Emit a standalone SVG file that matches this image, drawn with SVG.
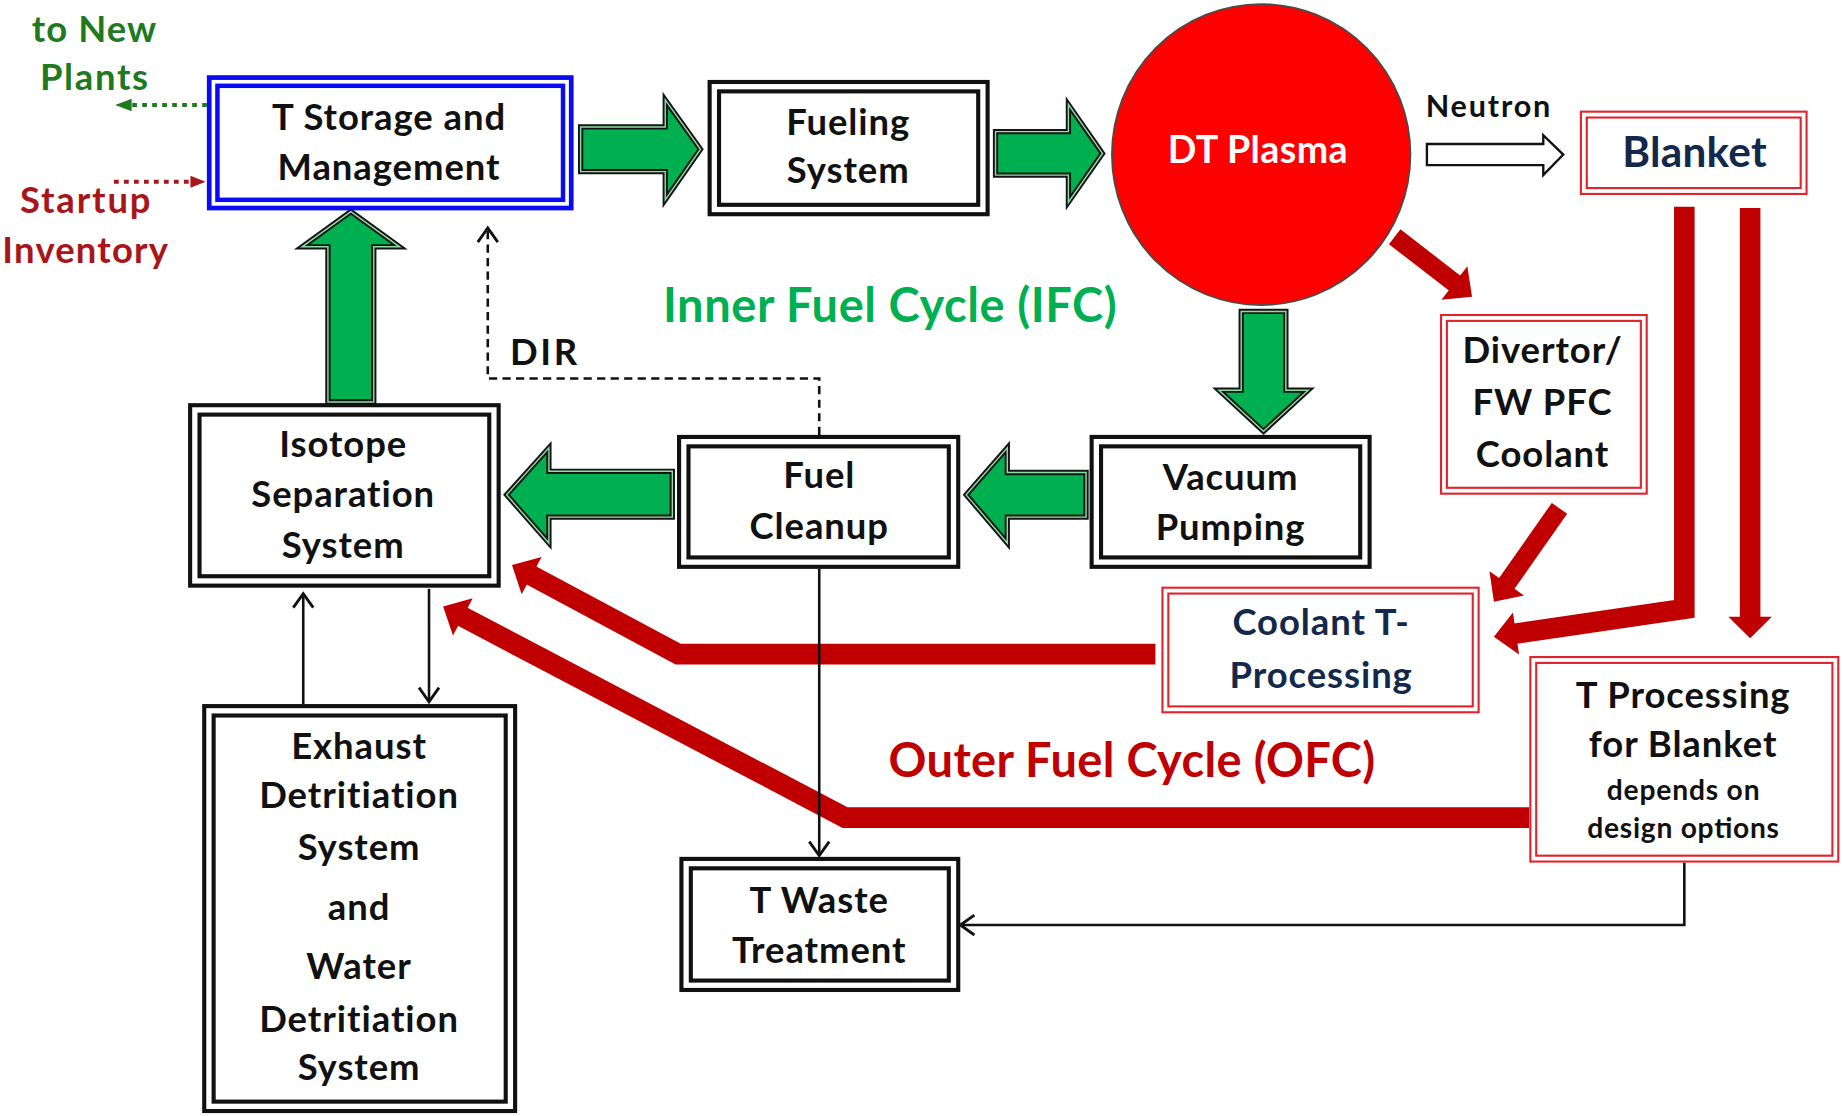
<svg xmlns="http://www.w3.org/2000/svg" xmlns:xlink="http://www.w3.org/1999/xlink" width="1843" height="1116" viewBox="0 0 1843 1116">
<style>
.t{font-family:Lato,"Liberation Sans","DejaVu Sans",sans-serif;font-weight:700;text-anchor:middle;fill:#111}
.bx{font-size:31px;letter-spacing:0.8px}
.nv{fill:#13294B}
.kO{fill:none;stroke:#111;stroke-width:3.5}
.kI{fill:none;stroke:#111;stroke-width:3.5}
.rb{fill:none;stroke:#E0242C;stroke-width:1.8}
.bb{fill:none;stroke:#0A0AF5;stroke-width:4}
.g1{fill:#00B050;stroke:#151515;stroke-width:4.5;stroke-linejoin:miter}
.g2{fill:none;stroke:#8FDCA5;stroke-width:1.2}
.band{fill:none;stroke:#C00000;stroke-width:17.5;stroke-linejoin:miter;stroke-miterlimit:10}
.rh{fill:#C00000}
.ln{fill:none;stroke:#111;stroke-width:2.2}
</style>
<defs>
<marker id="oa" markerUnits="userSpaceOnUse" markerWidth="30" markerHeight="30" viewBox="-15 -15 30 30" refX="0" refY="0" orient="auto">
<path d="M-12,-8.5 L0,0 L-12,8.5" fill="none" stroke="#111" stroke-width="2.4"/>
</marker>
<path id="gA" d="M494 108 H566 V85 L596 127 L566 170 V146 H494 Z"/>
<path id="gB" d="M847 112 H909 V89 L938 130.5 L909 172 V149 H847 Z"/>
<path id="gC" d="M1056 265 H1094 V332 H1113 L1075 367 L1037 332 H1056 Z"/>
<path id="gD" d="M924 402 H857 V381 L822 421 L857 462 V440 H924 Z"/>
<path id="gE" d="M572 401 H467 V381 L431 421 L467 462 V440 H572 Z"/>
<path id="gF" d="M279 342 V210 H257 L298.5 180 L340 210 H318 V342 Z"/>
</defs>
<rect width="1843" height="1116" fill="#fff"/>
<g transform="scale(1.17538)">

<g id="connectors">
<use xlink:href="#gA" class="g1"/><use xlink:href="#gA" class="g2"/>
<use xlink:href="#gB" class="g1"/><use xlink:href="#gB" class="g2"/>
<use xlink:href="#gC" class="g1"/><use xlink:href="#gC" class="g2"/>
<use xlink:href="#gD" class="g1"/><use xlink:href="#gD" class="g2"/>
<use xlink:href="#gE" class="g1"/><use xlink:href="#gE" class="g2"/>
<use xlink:href="#gF" class="g1"/><use xlink:href="#gF" class="g2"/>

<path d="M1214 122.5 H1313 V115 L1330 131.5 L1313 149 V140.5 H1214 Z" fill="#fff" stroke="#111" stroke-width="2"/>

<path class="band" style="stroke-width:16" d="M1186.6 201.4 L1239 242"/>
<polygon class="rh" points="1252.4,252.4 1226.4,255 1248.4,226.6"/>
<path class="band" style="stroke-width:16" d="M1326.8 432.5 L1280.8 498"/>
<polygon class="rh" points="1271,512 1296.6,506.7 1267.2,486.1"/>
<path class="band" d="M1433 176 L1433 518 L1288 539.3"/>
<polygon class="rh" points="1271,541.7 1292.4,556.8 1287.2,521.2"/>
<path class="band" d="M1489 177 L1489 526"/>
<polygon class="rh" points="1470.5,524.7 1507.5,524.7 1489,543"/>
<path class="band" d="M983 556.5 L577 556.5 L451 489"/>
<polygon class="rh" points="435.6,480.7 460.8,473.8 443.8,505.6"/>
<path class="band" d="M1301 695.6 L719 695.6 L392.5 524.1"/>
<polygon class="rh" points="377,516 402.2,508.9 385.4,540.7"/>

<path class="ln" d="M697 370 V322 H415 V194" stroke-dasharray="7 4.5" marker-end="url(#oa)"/>
<path class="ln" d="M697 484 V728" marker-end="url(#oa)"/>
<path class="ln" d="M1433 734 V787 H817" marker-end="url(#oa)"/>
<path class="ln" d="M258 599 V505" marker-end="url(#oa)"/>
<path class="ln" d="M365 501 V597" marker-end="url(#oa)"/>

<path d="M176 89.3 H111" fill="none" stroke="#1F7A1F" stroke-width="3.4" stroke-dasharray="4 4.5"/>
<polygon points="98,89.3 112,84 112,94.6" fill="#1F7A1F"/>
<path d="M97 154.6 H162" fill="none" stroke="#A8161A" stroke-width="3.4" stroke-dasharray="4 4.5"/>
<polygon points="175,154.6 162,149.5 162,159.7" fill="#A8161A"/>
</g>

<g id="label-new-plants">
<text class="t" x="80" y="35.5" font-size="31" textLength="106" style="fill:#1F7A1F">to New</text>
<text class="t" x="80" y="76.6" font-size="31" textLength="92" style="fill:#1F7A1F">Plants</text>
</g>
<g id="label-startup">
<text class="t" x="72.5" y="181.5" font-size="31" textLength="111" style="fill:#A8161A">Startup</text>
<text class="t" x="72.5" y="224" font-size="31" textLength="141" style="fill:#A8161A">Inventory</text>
</g>

<g id="t-storage">
<rect x="178" y="66" width="308" height="111" class="bb"/>
<rect x="185" y="73" width="294" height="97" class="bb" style="stroke-width:3.8"/>
<text class="t bx" x="331" y="110.6">T Storage and</text>
<text class="t bx" x="331" y="153">Management</text>
</g>

<g id="fueling">
<rect x="603.75" y="69.75" width="236.5" height="112.5" class="kO"/>
<rect x="611.75" y="77.75" width="220.5" height="96.5" class="kI"/>
<text class="t bx" x="721.6" y="114.9">Fueling</text>
<text class="t bx" x="721.6" y="156">System</text>
</g>

<g id="dt-plasma">
<ellipse cx="1073" cy="131.5" rx="127" ry="128" fill="#FF0000" stroke="#4a4a4a" stroke-width="1.5"/>
<text class="t" x="1070" y="139" font-size="32" textLength="153" style="fill:#fff">DT Plasma</text>
</g>

<g id="neutron-label">
<text class="t" x="1266" y="99.3" font-size="26" textLength="106">Neutron</text>
</g>

<g id="blanket">
<rect x="1345" y="95" width="192" height="70" class="rb"/>
<rect x="1350" y="100" width="182" height="60" class="rb"/>
<text class="t nv" x="1441.6" y="141.8" font-size="36" textLength="123">Blanket</text>
</g>

<g id="divertor">
<rect x="1226" y="268" width="175" height="152" class="rb"/>
<rect x="1231" y="273" width="165" height="142" class="rb"/>
<text class="t bx" x="1312.4" y="309">Divertor/</text>
<text class="t bx" x="1312.4" y="353">FW PFC</text>
<text class="t bx" x="1312.4" y="397.6">Coolant</text>
</g>

<g id="ifc-label">
<text class="t" x="757" y="273.7" font-size="40" textLength="386" style="fill:#00B050">Inner Fuel Cycle (IFC)</text>
</g>

<g id="dir-label">
<text class="t" x="462.5" y="310.6" font-size="31" textLength="57">DIR</text>
</g>

<g id="vacuum">
<rect x="928.75" y="371.75" width="236.5" height="110.5" class="kO"/>
<rect x="936.75" y="379.75" width="220.5" height="94.5" class="kI"/>
<text class="t bx" x="1047" y="417">Vacuum</text>
<text class="t bx" x="1047" y="459.5">Pumping</text>
</g>

<g id="fuel-cleanup">
<rect x="577.75" y="371.75" width="237.5" height="110.5" class="kO"/>
<rect x="585.75" y="379.75" width="221.5" height="94.5" class="kI"/>
<text class="t bx" x="697" y="415.5">Fuel</text>
<text class="t bx" x="697" y="458.7">Cleanup</text>
</g>

<g id="isotope">
<rect x="161.75" y="344.75" width="262.5" height="153.5" class="kO"/>
<rect x="169.75" y="352.75" width="246.5" height="137.5" class="kI"/>
<text class="t bx" x="292" y="389">Isotope</text>
<text class="t bx" x="292" y="431">Separation</text>
<text class="t bx" x="292" y="475">System</text>
</g>

<g id="coolant-t">
<rect x="989" y="500" width="269" height="106" class="rb"/>
<rect x="994" y="505" width="259" height="96" class="rb"/>
<text class="t nv bx" x="1124" y="540">Coolant T-</text>
<text class="t nv bx" x="1124" y="585.6">Processing</text>
</g>

<g id="t-processing">
<rect x="1302" y="559" width="262" height="174" class="rb"/>
<rect x="1307" y="564" width="252" height="164" class="rb"/>
<text class="t bx" x="1432" y="602.6">T Processing</text>
<text class="t bx" x="1432" y="644">for Blanket</text>
<text class="t" x="1432" y="680.6" font-size="24" textLength="130">depends on</text>
<text class="t" x="1432" y="713" font-size="24" textLength="163">design options</text>
</g>

<g id="ofc-label">
<text class="t" x="963" y="661" font-size="40" textLength="414" style="fill:#C00000">Outer Fuel Cycle (OFC)</text>
</g>

<g id="exhaust">
<rect x="173.75" y="600.75" width="264.5" height="344.5" class="kO"/>
<rect x="181.75" y="608.75" width="248.5" height="328.5" class="kI"/>
<text class="t bx" x="305.5" y="645.8">Exhaust</text>
<text class="t bx" x="305.5" y="687.6">Detritiation</text>
<text class="t bx" x="305.5" y="731.7">System</text>
<text class="t bx" x="305.5" y="782.7">and</text>
<text class="t bx" x="305.5" y="833">Water</text>
<text class="t bx" x="305.5" y="877.7">Detritiation</text>
<text class="t bx" x="305.5" y="919">System</text>
</g>

<g id="t-waste">
<rect x="579.75" y="730.75" width="235.5" height="111.5" class="kO"/>
<rect x="587.75" y="738.75" width="219.5" height="95.5" class="kI"/>
<text class="t bx" x="697" y="776.5">T Waste</text>
<text class="t bx" x="697" y="819">Treatment</text>
</g>

</g>
</svg>
